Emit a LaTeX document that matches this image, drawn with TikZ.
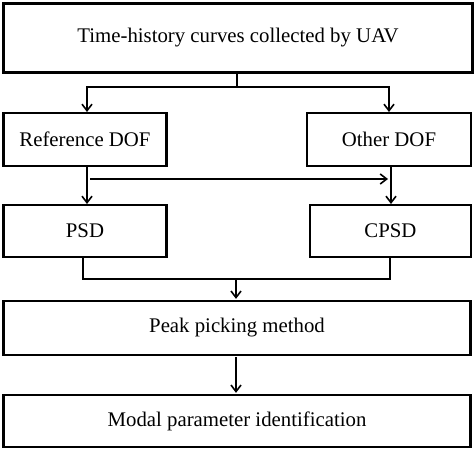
\documentclass[tikz,border=0pt]{standalone}
\usepackage{fontspec}
\setmainfont{Liberation Serif}
\usetikzlibrary{arrows.meta}
\begin{document}
\begin{tikzpicture}[x=1pt,y=-1pt,
  box/.style={draw,line width=2.3pt,inner sep=0pt,font=\fontsize{20.8}{24}\selectfont},
  conn/.style={line width=1.8pt},
  arr/.style={conn,-{Straight Barb[length=6.5pt,width=10pt,line width=1.6pt]}}]
\useasboundingbox (0,0) rectangle (474,449);
\node[box,minimum width=469pt,minimum height=69pt] (top) at (238,38) {Time-history curves collected by UAV};
\node[box,minimum width=163pt,minimum height=53pt] (ref) at (85,139.5) {Reference DOF};
\node[box,minimum width=164pt,minimum height=53pt] (oth) at (389,139.5) {Other DOF};
\node[box,minimum width=163pt,minimum height=52pt] (psd) at (85,231) {PSD};
\node[box,minimum width=161pt,minimum height=52pt] (cpsd) at (390.5,231) {CPSD};
\node[box,minimum width=467pt,minimum height=54pt] (peak) at (237,328) {Peak picking method};
\node[box,minimum width=467pt,minimum height=52pt] (modal) at (237,421) {Modal parameter identification};
\coordinate (j1) at (237,87);
\coordinate (j3) at (236,279);
\draw[conn] (top.south -| j1) -- (j1);
\draw[arr] (j1) -| (87,112);
\draw[arr] (j1) -| (389,112);
\draw[arr] (87,166) -- (87,204);
\draw[arr] (90,179) -- (388,179);
\draw[arr] (391,166) -- (391,204);
\draw[conn] (83,257) |- (390,279) -- (390,257);
\draw[arr] (j3) -- ([yshift=1pt]peak.north -| j3);
\draw[arr] ([yshift=-1pt]peak.south -| j3) -- ([yshift=1pt]modal.north -| j3);
\end{tikzpicture}
\end{document}
